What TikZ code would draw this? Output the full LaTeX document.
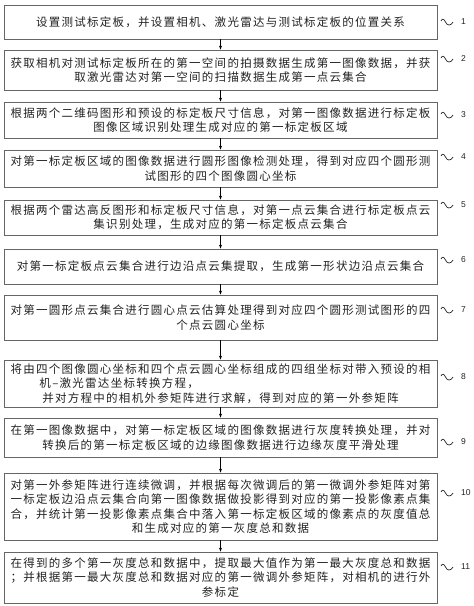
\documentclass[tikz,border=0pt]{standalone}
\usepackage{fontspec}
\newfontfamily\cjk[LetterSpace=11]{Noto Sans CJK SC}
\newfontfamily\numfont{Liberation Sans}
\usetikzlibrary{arrows.meta}
\definecolor{boxline}{HTML}{666666}
\definecolor{txt}{HTML}{222222}
\tikzset{
  stepbox/.style={draw=boxline, line width=0.8pt, rectangle, text width=433pt, inner xsep=0pt, inner ysep=0pt, align=center, text=txt, font=\cjk\fontsize{11.5pt}{14.3pt}\selectfont},
  lab/.style={font=\numfont\fontsize{8.5pt}{9pt}\selectfont, text=txt, inner sep=0pt, anchor=west},
  flow/.style={draw=black, line width=0.6pt, -{Stealth[length=4pt,width=3pt]}},
  wave/.style={draw=black!85, line width=0.7pt}
}
\newcommand{\mywave}[1]{\draw[wave] ([xshift=-20pt,yshift=1pt]#1.west) .. controls +(1.5pt,3pt) and +(-1.5pt,3pt) .. ++(4.5pt,-1pt) .. controls +(1.5pt,-4pt) and +(-2pt,-4pt) .. ++(7.5pt,0pt);}
\begin{document}
\begin{tikzpicture}[x=1pt,y=1pt]
\useasboundingbox (0,0) rectangle (474,-606);
\node[stepbox, minimum height=34pt] (b1) at (220.5,-22) {设置测试标定板，并设置相机、激光雷达与测试标定板的位置关系};
\node[stepbox, minimum height=40pt] (b2) at (220.5,-70) {获取相机对测试标定板所在的第一空间的拍摄数据生成第一图像数据，并获\\取激光雷达对第一空间的扫描数据生成第一点云集合};
\node[stepbox, minimum height=36pt] (b3) at (220.5,-120) {根据两个二维码图形和预设的标定板尺寸信息，对第一图像数据进行标定板\\图像区域识别处理生成对应的第一标定板区域};
\node[stepbox, minimum height=37pt] (b4) at (220.5,-168.5) {对第一标定板区域的图像数据进行圆形图像检测处理，得到对应四个圆形测\\试图形的四个图像圆心坐标};
\node[stepbox, minimum height=35pt] (b5) at (220.5,-217.5) {根据两个雷达高反图形和标定板尺寸信息，对第一点云集合进行标定板点云\\集识别处理，生成对应的第一标定板点云集合};
\node[stepbox, minimum height=35pt] (b6) at (220.5,-266.5) {对第一标定板点云集合进行边沿点云集提取，生成第一形状边沿点云集合};
\node[stepbox, minimum height=45pt] (b7) at (220.5,-317.5) {对第一圆形点云集合进行圆心点云估算处理得到对应四个圆形测试图形的四\\个点云圆心坐标};
\node[stepbox, minimum height=47pt] (b8) at (220.5,-383.5) {将由四个图像圆心坐标和四个点云圆心坐标组成的四组坐标对带入预设的相\\\makebox[362pt][l]{机–激光雷达坐标转换方程，}\\并对方程中的相机外参矩阵进行求解，得到对应的第一外参矩阵};
\node[stepbox, minimum height=39pt] (b9) at (220.5,-437.5) {在第一图像数据中，对第一标定板区域的图像数据进行灰度转换处理，并对\\转换后的第一标定板区域的边缘图像数据进行边缘灰度平滑处理};
\node[stepbox, minimum height=67pt] (b10) at (220.5,-506.5) {对第一外参矩阵进行连续微调，并根据每次微调后的第一微调外参矩阵对第\\一标定板边沿点云集合向第一图像数据做投影得到对应的第一投影像素点集\\合，并统计第一投影像素点集合中落入第一标定板区域的像素点的灰度值总\\和生成对应的第一灰度总和数据};
\node[stepbox, minimum height=51pt] (b11) at (220.5,-577.5) {在得到的多个第一灰度总和数据中，提取最大值作为第一最大灰度总和数据\\；并根据第一最大灰度总和数据对应的第一微调外参矩阵，对相机的进行外\\参标定};
\foreach \a/\b in {b1/b2,b2/b3,b3/b4,b4/b5,b5/b6,b6/b7,b7/b8,b8/b9,b9/b10,b10/b11}{
  \draw[flow] (\a) -- (\b);
}
\node[lab] (l1) at (461,-22) {1};
\node[lab] (l2) at (461,-59) {2};
\node[lab] (l3) at (461,-115) {3};
\node[lab] (l4) at (461,-157) {4};
\node[lab] (l5) at (461,-205) {5};
\node[lab] (l6) at (461,-260) {6};
\node[lab] (l7) at (461,-310) {7};
\node[lab] (l8) at (461,-377) {8};
\node[lab] (l9) at (461,-442) {9};
\node[lab] (l10) at (461,-493) {10};
\node[lab] (l11) at (461,-567) {11};
\foreach \l in {l1,l2,l3,l4,l5,l6,l7,l8,l9,l10,l11}{
  \mywave{\l}
}
\end{tikzpicture}
\end{document}
